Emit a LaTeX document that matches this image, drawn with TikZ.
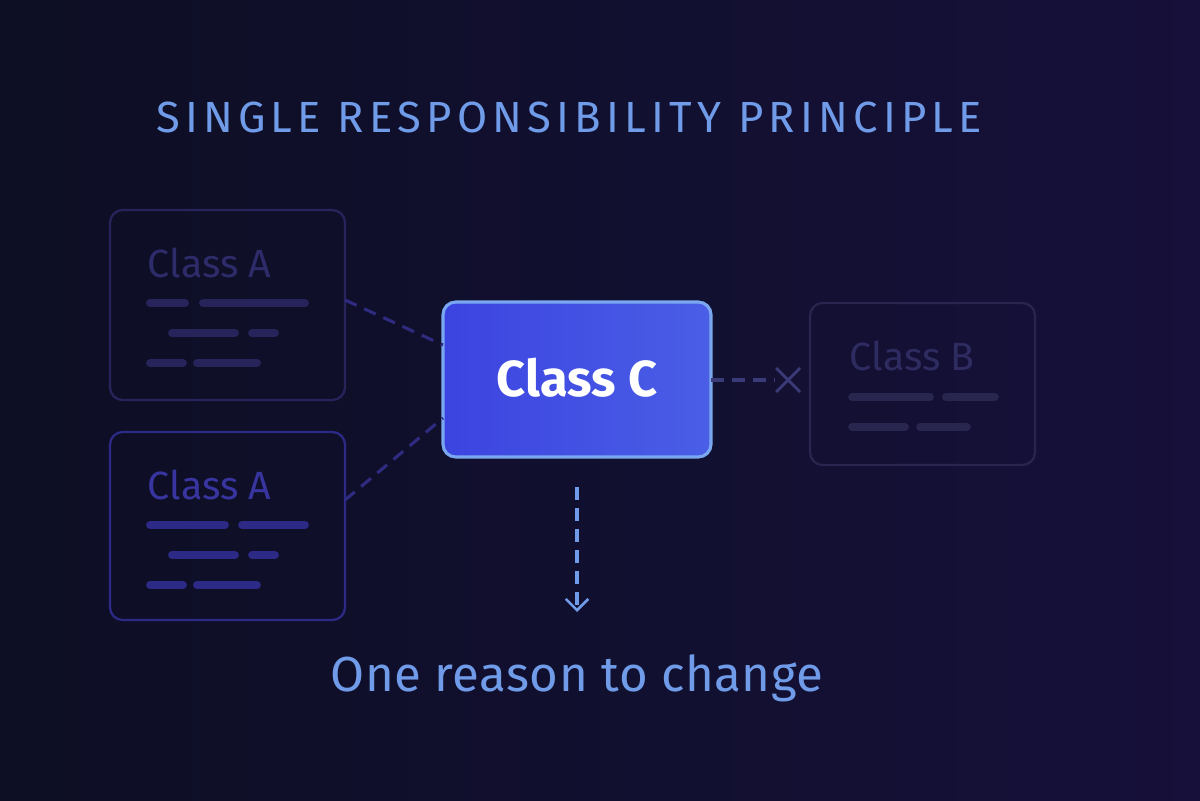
\documentclass[tikz,border=0pt]{standalone}
\usepackage{fontspec}
\setmainfont{Fira Sans}
\usetikzlibrary{arrows.meta}
\definecolor{bgA}{HTML}{0D0F24}
\definecolor{bgB}{HTML}{16103A}
\definecolor{titlec}{HTML}{6F9BE8}
\definecolor{fadeA}{HTML}{27245C}
\definecolor{fadeAt}{HTML}{2E2B6A}
\definecolor{midA}{HTML}{2C2A86}
\definecolor{midAt}{HTML}{3835A0}
\definecolor{fadeB}{HTML}{28254F}
\definecolor{fadeBt}{HTML}{2E2B60}
\definecolor{xcol}{HTML}{3A3A78}
\definecolor{cfill}{HTML}{3C44E0}
\definecolor{cfill2}{HTML}{4A5EE6}
\definecolor{cedge}{HTML}{7AA8F0}
\definecolor{dashc}{HTML}{2E2B80}
\tikzset{
 cbox/.style={rounded corners=9pt, line width=1.6pt},
 bar/.style={line width=5.5pt, line cap=round},
 conn/.style={dashed, dash pattern=on 9pt off 6pt, line width=2.2pt},
}
\begin{document}
\begin{tikzpicture}[x=0.025cm,y=-0.025cm]
\shade[left color=bgA, right color=bgB] (0,0) rectangle (1200,800);
\useasboundingbox (0,0) rectangle (1200,800);
\node[text=titlec, font=\fontsize{31}{34}\selectfont\addfontfeatures{LetterSpace=12}] (title) at (569,117) {SINGLE RESPONSIBILITY PRINCIPLE};
% Class A top
\draw[cbox, draw=fadeA] (110,210) rectangle (345,400);
\coordinate (a1r) at (345,300);
\node[text=fadeAt, font=\fontsize{28}{30}\selectfont, anchor=west] (a1t) at (143,263) {Class A};
\foreach \y/\a/\b/\c/\d in {303/150/185/203/305, 333/172/235/252/275, 363/150/183/197/257}
 {\draw[bar, fadeA] (\a,\y) -- (\b,\y); \draw[bar, fadeA] (\c,\y) -- (\d,\y);}
% Class A bottom
\draw[cbox, draw=midA] (110,432) rectangle (345,620);
\coordinate (a2r) at (345,500);
\node[text=midAt, font=\fontsize{28}{30}\selectfont, anchor=west] (a2t) at (143,485) {Class A};
\foreach \y/\a/\b/\c/\d in {525/150/225/242/305, 555/172/235/252/275, 585/150/183/197/257}
 {\draw[bar, midA] (\a,\y) -- (\b,\y); \draw[bar, midA] (\c,\y) -- (\d,\y);}
% Class B
\draw[cbox, draw=fadeB] (810,303) rectangle (1035,465);
\node[text=fadeBt, font=\fontsize{28}{30}\selectfont, anchor=west] (bt) at (845,356) {Class B};
\foreach \y/\a/\b/\c/\d in {397/852/930/946/995, 427/852/905/920/967}
 {\draw[bar, fadeB] (\a,\y) -- (\b,\y); \draw[bar, fadeB] (\c,\y) -- (\d,\y);}
% Class C
\draw[cbox, left color=cfill, right color=cfill2, draw=cedge, line width=2.2pt] (443,302) rectangle (711,457);
\node[text=white, font=\fontsize{36}{38}\selectfont\addfontfeatures{FakeBold=0}\fontseries{sb}\selectfont] (c) at (577,378) {Class C};
\coordinate (cl1) at (443,345);
\coordinate (cl2) at (443,418);
\coordinate (cr) at (711,380);
\draw[conn, dashc] (a1r) -- (cl1);
\draw[conn, dashc] (a2r) -- (cl2);
\draw[conn, xcol] (cr) -- (775,380);
\draw[line width=2pt, xcol] (776,368) -- (800,392) (776,392) -- (800,368);
% down arrow
\coordinate (d1) at (577,487);
\coordinate (d2) at (577,612);
\draw[conn, titlec, -{Straight Barb[length=8pt,width=16pt,line width=1.8pt]}] (d1) -- (d2);
\node[text=titlec, font=\fontsize{35}{38}\selectfont\addfontfeatures{LetterSpace=1}] (reason) at (577,678) {One reason to change};
\end{tikzpicture}
\end{document}
